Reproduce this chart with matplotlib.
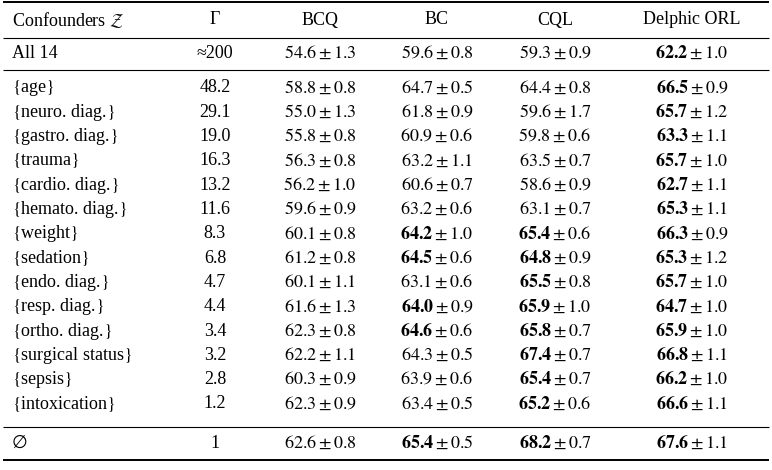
import matplotlib
matplotlib.use("Agg")
import matplotlib.pyplot as plt

plt.rcParams['font.family'] = ['Liberation Serif', 'DejaVu Serif', 'DejaVu Sans']
plt.rcParams['mathtext.fontset'] = 'stix'

headers = ["Confounders $\\mathcal{Z}$", "Γ", "BCQ", "BC", "CQL", "Delphic ORL"]
confounders = ["All 14", "{age}", "{neuro. diag.}", "{gastro. diag.}", "{trauma}", "{cardio. diag.}",
               "{hemato. diag.}", "{weight}", "{sedation}", "{endo. diag.}", "{resp. diag.}",
               "{ortho. diag.}", "{surgical status}", "{sepsis}", "{intoxication}", "∅"]
gamma = ["≈200", "48.2", "29.1", "19.0", "16.3", "13.2", "11.6", "8.3", "6.8", "4.7", "4.4", "3.4", "3.2", "2.8", "1.2", "1"]
bcq = [(54.6,1.3),(58.8,0.8),(55.0,1.3),(55.8,0.8),(56.3,0.8),(56.2,1.0),(59.6,0.9),(60.1,0.8),(61.2,0.8),
       (60.1,1.1),(61.6,1.3),(62.3,0.8),(62.2,1.1),(60.3,0.9),(62.3,0.9),(62.6,0.8)]
bc = [(59.6,0.8),(64.7,0.5),(61.8,0.9),(60.9,0.6),(63.2,1.1),(60.6,0.7),(63.2,0.6),(64.2,1.0),(64.5,0.6),
      (63.1,0.6),(64.0,0.9),(64.6,0.6),(64.3,0.5),(63.9,0.6),(63.4,0.5),(65.4,0.5)]
cql = [(59.3,0.9),(64.4,0.8),(59.6,1.7),(59.8,0.6),(63.5,0.7),(58.6,0.9),(63.1,0.7),(65.4,0.6),(64.8,0.9),
       (65.5,0.8),(65.9,1.0),(65.8,0.7),(67.4,0.7),(65.4,0.7),(65.2,0.6),(68.2,0.7)]
delphic = [(62.2,1.0),(66.5,0.9),(65.7,1.2),(63.3,1.1),(65.7,1.0),(62.7,1.1),(65.3,1.1),(66.3,0.9),(65.3,1.2),
           (65.7,1.0),(64.7,1.0),(65.9,1.0),(66.8,1.1),(66.2,1.0),(66.6,1.1),(67.6,1.1)]
bold_bc = [7, 8, 10, 11, 15]
bold_cql = [7, 8, 9, 10, 11, 12, 13, 14, 15]
bold_delphic = list(range(16))

W, H = 772, 470
fig = plt.figure(figsize=(W/100, H/100), dpi=100)
ax = fig.add_axes([0, 0, 1, 1])
ax.set_xlim(0, W); ax.set_ylim(H, 0); ax.axis('off')

fs = 13
row_y = [53] + [88 + 24.3*i for i in range(14)] + [443]
col_x = [215, 320, 437, 555, 692]

def hl(y, lw):
    ax.plot([3, 769], [y, y], color='black', lw=lw, solid_capstyle='butt')

hl(2, 1.4); hl(38, 0.8); hl(70, 0.8); hl(427, 0.8); hl(460, 1.4)

ax.text(12, 20, headers[0], fontsize=fs, va='center', ha='left')
for x, h in zip(col_x, headers[1:]):
    ax.text(x, 20, h, fontsize=fs, va='center', ha='center')

def cell(x, y, v, bold):
    m = f"{v[0]:.1f}"
    if bold:
        ax.text(x, y, f"$\\mathbf{{{m}}}\\pm{v[1]:.1f}$", fontsize=fs, va='center', ha='center')
    else:
        ax.text(x, y, f"${m}\\pm{v[1]:.1f}$", fontsize=fs, va='center', ha='center')

for i, y in enumerate(row_y):
    name = confounders[i]
    if name.startswith("{"):
        name = "$\\{$" + name[1:-1] + "$\\}$"
    ax.text(12, y, name, fontsize=fs, va='center', ha='left')
    ax.text(col_x[0], y, gamma[i], fontsize=fs, va='center', ha='center')
    cell(col_x[1], y, bcq[i], False)
    cell(col_x[2], y, bc[i], i in bold_bc)
    cell(col_x[3], y, cql[i], i in bold_cql)
    cell(col_x[4], y, delphic[i], i in bold_delphic)

fig.savefig("out.png", dpi=100)
